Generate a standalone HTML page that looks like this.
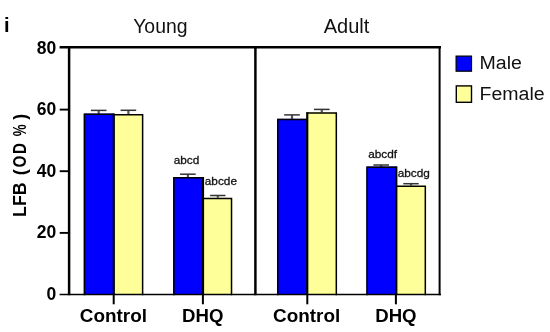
<!DOCTYPE html>
<html><head><meta charset="utf-8"><title>LFB chart</title>
<style>html,body{margin:0;padding:0;background:#fff;width:550px;height:332px;overflow:hidden}svg{display:block}</style>
</head><body>
<svg width="550" height="332" viewBox="0 0 550 332">
<rect x="0" y="0" width="550" height="332" fill="#fff"/>
<line x1="98.70" y1="110.40" x2="98.70" y2="114.60" stroke="#555" stroke-width="2.2"/>
<line x1="90.90" y1="110.40" x2="106.50" y2="110.40" stroke="#333" stroke-width="1.5"/>
<line x1="128.40" y1="110.30" x2="128.40" y2="115.00" stroke="#555" stroke-width="2.2"/>
<line x1="120.60" y1="110.30" x2="136.20" y2="110.30" stroke="#333" stroke-width="1.5"/>
<line x1="187.90" y1="174.20" x2="187.90" y2="178.00" stroke="#555" stroke-width="2.2"/>
<line x1="180.10" y1="174.20" x2="195.70" y2="174.20" stroke="#333" stroke-width="1.5"/>
<line x1="217.80" y1="195.50" x2="217.80" y2="198.70" stroke="#555" stroke-width="2.2"/>
<line x1="210.10" y1="195.50" x2="225.50" y2="195.50" stroke="#333" stroke-width="1.5"/>
<line x1="292.00" y1="114.90" x2="292.00" y2="119.80" stroke="#555" stroke-width="2.2"/>
<line x1="284.20" y1="114.90" x2="299.80" y2="114.90" stroke="#333" stroke-width="1.5"/>
<line x1="321.80" y1="109.40" x2="321.80" y2="113.30" stroke="#555" stroke-width="2.2"/>
<line x1="314.00" y1="109.40" x2="329.60" y2="109.40" stroke="#333" stroke-width="1.5"/>
<line x1="381.20" y1="165.00" x2="381.20" y2="167.50" stroke="#555" stroke-width="2.2"/>
<line x1="373.40" y1="165.00" x2="389.00" y2="165.00" stroke="#333" stroke-width="1.5"/>
<line x1="411.00" y1="183.70" x2="411.00" y2="186.60" stroke="#555" stroke-width="2.2"/>
<line x1="403.30" y1="183.70" x2="418.70" y2="183.70" stroke="#333" stroke-width="1.5"/>
<rect x="83.80" y="113.60" width="30.00" height="180.85" fill="#0000ff"/>
<rect x="113.80" y="114.00" width="29.50" height="180.45" fill="#ffff99"/>
<path d="M84.47,294.45V114.35H113.80 M113.80,114.75H142.62V294.45" fill="none" stroke="#000" stroke-width="1.5" stroke-linejoin="miter" stroke-linecap="square"/>
<line x1="113.80" y1="113.60" x2="113.80" y2="294.45" stroke="#000" stroke-width="2.2"/>
<rect x="173.20" y="177.00" width="29.80" height="117.45" fill="#0000ff"/>
<rect x="203.00" y="197.70" width="29.20" height="96.75" fill="#ffff99"/>
<path d="M173.88,294.45V177.75H203.00 M203.00,198.45H231.52V294.45" fill="none" stroke="#000" stroke-width="1.5" stroke-linejoin="miter" stroke-linecap="square"/>
<line x1="203.00" y1="177.00" x2="203.00" y2="294.45" stroke="#000" stroke-width="2.2"/>
<rect x="277.10" y="118.80" width="30.15" height="175.65" fill="#0000ff"/>
<rect x="307.25" y="112.30" width="29.75" height="182.15" fill="#ffff99"/>
<path d="M277.78,294.45V119.55H307.25 M307.25,113.05H336.32V294.45" fill="none" stroke="#000" stroke-width="1.5" stroke-linejoin="miter" stroke-linecap="square"/>
<line x1="307.25" y1="112.30" x2="307.25" y2="294.45" stroke="#000" stroke-width="2.2"/>
<rect x="366.40" y="166.50" width="29.90" height="127.95" fill="#0000ff"/>
<rect x="396.30" y="185.60" width="29.70" height="108.85" fill="#ffff99"/>
<path d="M367.07,294.45V167.25H396.30 M396.30,186.35H425.32V294.45" fill="none" stroke="#000" stroke-width="1.5" stroke-linejoin="miter" stroke-linecap="square"/>
<line x1="396.30" y1="166.50" x2="396.30" y2="294.45" stroke="#000" stroke-width="2.2"/>
<line x1="69.1" y1="46" x2="69.1" y2="295.2" stroke="#000" stroke-width="2.5"/>
<line x1="59.6" y1="47.3" x2="441" y2="47.3" stroke="#000" stroke-width="2.6"/>
<line x1="59.6" y1="294.45" x2="441" y2="294.45" stroke="#000" stroke-width="1.6"/>
<line x1="439.6" y1="46" x2="439.6" y2="295.2" stroke="#000" stroke-width="2"/>
<line x1="255.4" y1="46" x2="255.4" y2="295.2" stroke="#000" stroke-width="2.5"/>
<line x1="59.7" y1="109.60" x2="69.1" y2="109.60" stroke="#000" stroke-width="1.9"/>
<line x1="59.7" y1="171.20" x2="69.1" y2="171.20" stroke="#000" stroke-width="1.9"/>
<line x1="59.7" y1="232.90" x2="69.1" y2="232.90" stroke="#000" stroke-width="1.9"/>
<line x1="113.7" y1="294.45" x2="113.7" y2="304.3" stroke="#000" stroke-width="2"/>
<line x1="202.9" y1="294.45" x2="202.9" y2="304.3" stroke="#000" stroke-width="2"/>
<line x1="307.3" y1="294.45" x2="307.3" y2="304.3" stroke="#000" stroke-width="2"/>
<line x1="395.9" y1="294.45" x2="395.9" y2="304.3" stroke="#000" stroke-width="2"/>
<text x="56.2" y="53.6" text-anchor="end" style="font-family:'Liberation Sans',Arial,sans-serif;font-weight:bold;font-size:17.5px" fill="#000">80</text>
<text x="56.2" y="115.3" text-anchor="end" style="font-family:'Liberation Sans',Arial,sans-serif;font-weight:bold;font-size:17.5px" fill="#000">60</text>
<text x="56.2" y="176.9" text-anchor="end" style="font-family:'Liberation Sans',Arial,sans-serif;font-weight:bold;font-size:17.5px" fill="#000">40</text>
<text x="56.2" y="238.4" text-anchor="end" style="font-family:'Liberation Sans',Arial,sans-serif;font-weight:bold;font-size:17.5px" fill="#000">20</text>
<text x="56.2" y="300.2" text-anchor="end" style="font-family:'Liberation Sans',Arial,sans-serif;font-weight:bold;font-size:17.5px" fill="#000">0</text>
<text transform="translate(25.9,216.96) rotate(-90)" style="font-family:'Liberation Sans',Arial,sans-serif;font-weight:bold;font-size:17.8px" fill="#000">LFB</text>
<text transform="translate(25.9,172.2) rotate(-90) scale(1.0,1)" text-anchor="middle" style="font-family:'Liberation Sans',Arial,sans-serif;font-weight:bold;font-size:17.8px" fill="#000">(</text>
<text transform="translate(25.9,161.6) rotate(-90) scale(0.86,1)" text-anchor="middle" style="font-family:'Liberation Sans',Arial,sans-serif;font-weight:bold;font-size:17.8px" fill="#000">O</text>
<text transform="translate(25.9,148.6) rotate(-90) scale(0.85,1)" text-anchor="middle" style="font-family:'Liberation Sans',Arial,sans-serif;font-weight:bold;font-size:17.8px" fill="#000">D</text>
<text transform="translate(25.9,130.2) rotate(-90) scale(0.75,1)" text-anchor="middle" style="font-family:'Liberation Sans',Arial,sans-serif;font-weight:bold;font-size:17.8px" fill="#000">%</text>
<text transform="translate(25.9,116.8) rotate(-90) scale(1.0,1)" text-anchor="middle" style="font-family:'Liberation Sans',Arial,sans-serif;font-weight:bold;font-size:17.8px" fill="#000">)</text>
<text transform="translate(113.35,322.0) scale(1.05,1)" text-anchor="middle" style="font-family:'Liberation Sans',Arial,sans-serif;font-weight:bold;font-size:18px" fill="#000">Control</text>
<text transform="translate(202.75,322.0) scale(1.035,1)" text-anchor="middle" style="font-family:'Liberation Sans',Arial,sans-serif;font-weight:bold;font-size:18px" fill="#000">DHQ</text>
<text transform="translate(306.6,322.0) scale(1.05,1)" text-anchor="middle" style="font-family:'Liberation Sans',Arial,sans-serif;font-weight:bold;font-size:18px" fill="#000">Control</text>
<text transform="translate(395.9,322.0) scale(1.035,1)" text-anchor="middle" style="font-family:'Liberation Sans',Arial,sans-serif;font-weight:bold;font-size:18px" fill="#000">DHQ</text>
<text transform="translate(160.35,33.1) scale(0.97,1)" text-anchor="middle" style="font-family:'Liberation Sans',Arial,sans-serif;font-size:20px" fill="#111">Young</text>
<text transform="translate(346.5,33.3)" text-anchor="middle" style="font-family:'Liberation Sans',Arial,sans-serif;font-size:20px" fill="#111">Adult</text>
<text x="4.1" y="32.1" style="font-family:'Liberation Sans',Arial,sans-serif;font-weight:bold;font-size:20px" fill="#000">i</text>
<text x="186.5" y="163.6" text-anchor="middle" style="font-family:'Liberation Sans',Arial,sans-serif;font-size:11.8px" fill="#111" stroke="#111" stroke-width="0.3">abcd</text>
<text x="220.9" y="185.0" text-anchor="middle" style="font-family:'Liberation Sans',Arial,sans-serif;font-size:11.8px" fill="#111" stroke="#111" stroke-width="0.3">abcde</text>
<text x="382.6" y="157.8" text-anchor="middle" style="font-family:'Liberation Sans',Arial,sans-serif;font-size:11.8px" fill="#111" stroke="#111" stroke-width="0.3">abcdf</text>
<text x="413.8" y="177.0" text-anchor="middle" style="font-family:'Liberation Sans',Arial,sans-serif;font-size:11.8px" fill="#111" stroke="#111" stroke-width="0.3">abcdg</text>
<rect x="456.1" y="56.1" width="15.4" height="15.1" fill="#0000ff" stroke="#000" stroke-width="1.2"/>
<rect x="456.3" y="85.9" width="15.2" height="16.4" fill="#ffff99" stroke="#000" stroke-width="1.4"/>
<text transform="translate(479.5,69.4) scale(1.03,1)" style="font-family:'Liberation Sans',Arial,sans-serif;font-size:19px" fill="#111">Male</text>
<text transform="translate(479.5,100.0) scale(1.03,1)" style="font-family:'Liberation Sans',Arial,sans-serif;font-size:19px" fill="#111">Female</text>
</svg>
</body></html>
